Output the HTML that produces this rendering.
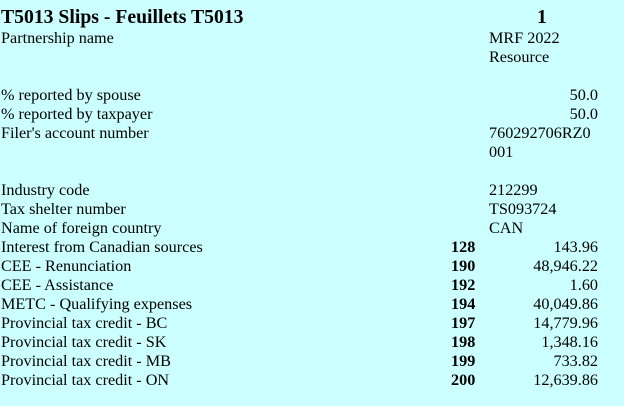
<!DOCTYPE html>
<html><head><style>
body{margin:0;width:624px;height:406px;background:#ccffff;overflow:hidden;font-family:"Liberation Serif",serif;color:#000}
.t{position:absolute;left:1px;top:5px;font-size:19.7px;font-weight:bold;line-height:24px}
.one{position:absolute;left:537px;top:5px;font-size:19.7px;font-weight:bold;line-height:24px}
.r{position:absolute;left:0;width:624px;height:19px;font-size:16.2px;line-height:19px}
.r span{position:absolute;white-space:nowrap}
.l{left:1px}.c{left:451px;font-weight:bold}.v{left:489px}.n{right:26px}
</style></head><body>
<div class="t">T5013 Slips - Feuillets T5013</div>
<div class="one">1</div>
<div class="r" style="top:29px"><span class="l">Partnership name</span><span class="v">MRF 2022</span></div>
<div class="r" style="top:48px"><span class="v">Resource</span></div>
<div class="r" style="top:86px"><span class="l">% reported by spouse</span><span class="n">50.0</span></div>
<div class="r" style="top:105px"><span class="l">% reported by taxpayer</span><span class="n">50.0</span></div>
<div class="r" style="top:124px"><span class="l">Filer's account number</span><span class="v">760292706RZ0</span></div>
<div class="r" style="top:143px"><span class="v">001</span></div>
<div class="r" style="top:181px"><span class="l">Industry code</span><span class="v">212299</span></div>
<div class="r" style="top:200px"><span class="l">Tax shelter number</span><span class="v">TS093724</span></div>
<div class="r" style="top:219px"><span class="l">Name of foreign country</span><span class="v">CAN</span></div>
<div class="r" style="top:238px"><span class="l">Interest from Canadian sources</span><span class="c">128</span><span class="n">143.96</span></div>
<div class="r" style="top:257px"><span class="l">CEE - Renunciation</span><span class="c">190</span><span class="n">48,946.22</span></div>
<div class="r" style="top:276px"><span class="l">CEE - Assistance</span><span class="c">192</span><span class="n">1.60</span></div>
<div class="r" style="top:295px"><span class="l">METC - Qualifying expenses</span><span class="c">194</span><span class="n">40,049.86</span></div>
<div class="r" style="top:314px"><span class="l">Provincial tax credit - BC</span><span class="c">197</span><span class="n">14,779.96</span></div>
<div class="r" style="top:333px"><span class="l">Provincial tax credit - SK</span><span class="c">198</span><span class="n">1,348.16</span></div>
<div class="r" style="top:352px"><span class="l">Provincial tax credit - MB</span><span class="c">199</span><span class="n">733.82</span></div>
<div class="r" style="top:371px"><span class="l">Provincial tax credit - ON</span><span class="c">200</span><span class="n">12,639.86</span></div>
</body></html>
